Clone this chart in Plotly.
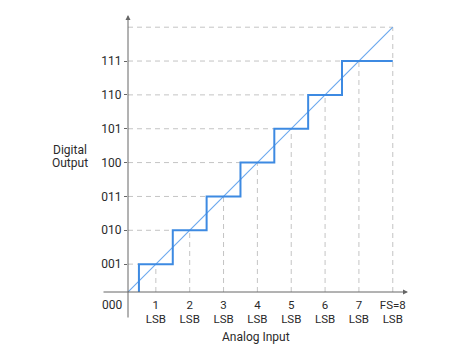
import plotly.graph_objects as go

# ---- data ----
codes = ["000", "001", "010", "011", "100", "101", "110", "111"]
levels = [0, 1, 2, 3, 4, 5, 6, 7]
thresholds = [0.5, 1.5, 2.5, 3.5, 4.5, 5.5, 6.5]  # analog inputs where code steps up
lsb_ticks = [1, 2, 3, 4, 5, 6, 7, 8]
lsb_numbers = ["1", "2", "3", "4", "5", "6", "7", "FS=8"]
lsb_unit = "LSB"
full_scale = 8

# axis geometry (data units)
axis0 = 0.177
x_max = 8.45
y_max = 8.36

FONT = "Roboto, 'Open Sans', sans-serif"
TXT = "#2a2a2a"
GRID = "#c4c4c4"
AX = "#666666"

fig = go.Figure()

# dashed guide lines: horizontal (axis -> step start) and vertical (axis -> level)
gx, gy = [], []
for lv, th in zip(levels[1:], thresholds):
    gx += [axis0, th, None]
    gy += [lv, lv, None]
gx += [axis0, full_scale, None]
gy += [full_scale, full_scale, None]
for t in lsb_ticks:
    gx += [t, t, None]
    gy += [axis0, min(t, full_scale), None]
fig.add_trace(go.Scatter(x=gx, y=gy, mode="lines",
                         line=dict(color=GRID, width=1, dash="5px,4px"),
                         hoverinfo="skip", showlegend=False))

# ideal transfer line
fig.add_trace(go.Scatter(x=[axis0, full_scale], y=[axis0, full_scale], mode="lines",
                         line=dict(color="#6aa8ee", width=1.1),
                         hoverinfo="skip", showlegend=False))

# staircase
sx, sy = [thresholds[0]], [axis0]
for i, th in enumerate(thresholds):
    lv = levels[i + 1]
    sx += [th, thresholds[i + 1] if i + 1 < len(thresholds) else full_scale]
    sy += [lv, lv]
fig.add_trace(go.Scatter(x=sx, y=sy, mode="lines",
                         line=dict(color="#3d8ae2", width=2),
                         hoverinfo="skip", showlegend=False))

tf = dict(family=FONT, size=12, color=TXT)
annotations = [
    # axis arrows
    dict(xref="paper", yref="paper", x=1, y=0, ax=-306, ay=0, text="",
         showarrow=True, arrowhead=2, arrowsize=1, arrowwidth=1, arrowcolor=AX),
    dict(xref="paper", yref="paper", x=0, y=1, ax=0, ay=304, text="",
         showarrow=True, arrowhead=2, arrowsize=1, arrowwidth=1, arrowcolor=AX),
    # "000" label below x-axis
    dict(xref="paper", yref="paper", x=0, y=0, text=codes[0], showarrow=False,
         xanchor="right", yanchor="middle", xshift=-4, yshift=-13, font=tf),
    dict(xref="paper", yref="paper", x=-0.207, y=0.513, text="Digital",
         showarrow=False, xanchor="center", yanchor="middle", font=tf),
    dict(xref="paper", yref="paper", x=-0.207, y=0.466, text="Output",
         showarrow=False, xanchor="center", yanchor="middle", font=tf),
    dict(xref="paper", yref="paper", x=0.457, y=-0.162, text="Analog Input",
         showarrow=False, xanchor="center", yanchor="middle", font=tf),
]

fig.update_layout(
    width=466, height=351,
    margin=dict(l=120, r=66, t=7, b=67),
    paper_bgcolor="white", plot_bgcolor="white",
    font=tf,
    annotations=annotations,
    xaxis=dict(range=[axis0, x_max], showgrid=False, zeroline=False, showline=False,
               tickmode="array", tickvals=lsb_ticks,
               ticktext=[f"{n}<br>{lsb_unit}" for n in lsb_numbers],
               ticks="", ticklabelstandoff=4,
               tickfont=dict(family=FONT, size=11.5, color=TXT)),
    yaxis=dict(range=[axis0, y_max], showgrid=False, zeroline=False, showline=False,
               tickmode="array", tickvals=levels[1:], ticktext=codes[1:],
               ticks="outside", ticklen=3, tickcolor=AX, tickwidth=1, tickfont=tf),
)

fig.write_html("out.html")
